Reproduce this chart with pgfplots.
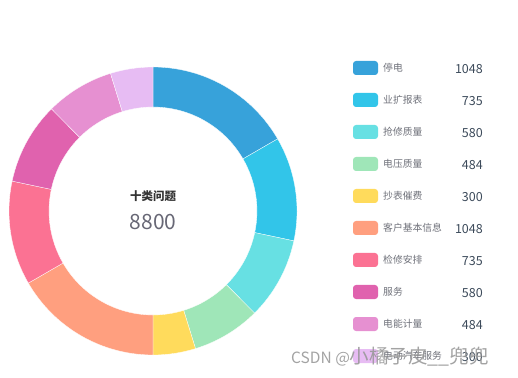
\documentclass[border=0pt]{standalone}
\usepackage{pgfplots}
\usepackage{pgfplotstable}
\pgfplotsset{compat=1.18}
\usepackage{fontspec}
\setmainfont{Noto Sans CJK SC}
\definecolor{c0}{HTML}{37A2DA}
\definecolor{c1}{HTML}{32C5E9}
\definecolor{c2}{HTML}{67E0E3}
\definecolor{c3}{HTML}{9FE6B8}
\definecolor{c4}{HTML}{FFDB5C}
\definecolor{c5}{HTML}{FF9F7F}
\definecolor{c6}{HTML}{FB7293}
\definecolor{c7}{HTML}{E062AE}
\definecolor{c8}{HTML}{E690D1}
\definecolor{c9}{HTML}{E7BCF3}
\definecolor{labcol}{HTML}{6E7079}
\definecolor{valcol}{HTML}{3C4A5A}
\definecolor{titcol}{HTML}{333333}
\definecolor{numcol}{HTML}{676775}

\pgfplotstableread[col sep=comma]{
label,value
停电,1048
业扩报表,735
抢修质量,580
电压质量,484
抄表催费,300
客户基本信息,1048
检修安排,735
服务,580
电能计量,484
电动汽车服务,300
}\data

% totals and angles (clockwise from the top)
\def\total{0}
\pgfplotsforeachungrouped \i in {0,...,9}{%
  \pgfplotstablegetelem{\i}{value}\of\data
  \pgfmathsetmacro\total{\total+\pgfplotsretval}%
}
\def\cum{0}
\pgfplotsforeachungrouped \i in {0,...,9}{%
  \pgfplotstablegetelem{\i}{value}\of\data
  \let\curval\pgfplotsretval
  \expandafter\xdef\csname val\i\endcsname{\curval}%
  \pgfmathsetmacro\sa{90-(\cum/\total)*360}%
  \pgfmathsetmacro\cum{\cum+\curval}%
  \pgfmathsetmacro\sb{90-(\cum/\total)*360}%
  \expandafter\xdef\csname sa\i\endcsname{\sa}%
  \expandafter\xdef\csname sb\i\endcsname{\sb}%
  \pgfplotstablegetelem{\i}{label}\of\data
  \expandafter\xdef\csname lab\i\endcsname{\pgfplotsretval}%
}

\newcommand\cx{153}
\newcommand\cy{166}
\newcommand\Ro{144}
\newcommand\Ri{104}

\begin{document}
\begin{tikzpicture}
\begin{axis}[
  width=518pt, height=377pt, scale only axis,
  xmin=0, xmax=518, ymin=0, ymax=377,
  hide axis, clip=false,
]
\path (axis cs:0,0) rectangle (axis cs:518,377);
\pgfplotsinvokeforeach{0,...,9}{
  \fill[c#1, draw=white, line width=0.3pt]
    (axis cs:{\cx+\Ro*cos(\csname sa#1\endcsname)},{\cy+\Ro*sin(\csname sa#1\endcsname)})
    arc[start angle=\csname sa#1\endcsname, end angle=\csname sb#1\endcsname, radius=\Ro pt]
    -- (axis cs:{\cx+\Ri*cos(\csname sb#1\endcsname)},{\cy+\Ri*sin(\csname sb#1\endcsname)})
    arc[start angle=\csname sb#1\endcsname, end angle=\csname sa#1\endcsname, radius=\Ri pt]
    -- cycle;
  \fill[c#1, rounded corners=3pt] (axis cs:353,{302-32*#1}) rectangle (axis cs:378,{316-32*#1});
  \node[anchor=west, inner sep=0pt, text=labcol, font=\fontsize{9.8}{11}\selectfont]
    at (axis cs:383,{309-32*#1}) {\csname lab#1\endcsname};
  \node[anchor=east, inner sep=0pt, text=valcol, font=\fontsize{12.5}{14}\selectfont]
    at (axis cs:483,{308-32*#1}) {\csname val#1\endcsname};
}
\node[text=titcol, font=\fontsize{11.5}{13}\selectfont\bfseries] at (axis cs:153,181) {十类问题};
\node[text=numcol, font=\fontsize{21}{24}\selectfont] at (axis cs:153,155) {8800};
\node[anchor=west, inner sep=0pt, text=black!40, opacity=0.9, font=\fontsize{15.5}{18}\selectfont]
  at (axis cs:291,20) {CSDN @{\fontsize{19.5}{22}\selectfont 小橘子皮\_\_兜兜}};
\end{axis}
\end{tikzpicture}
\end{document}
